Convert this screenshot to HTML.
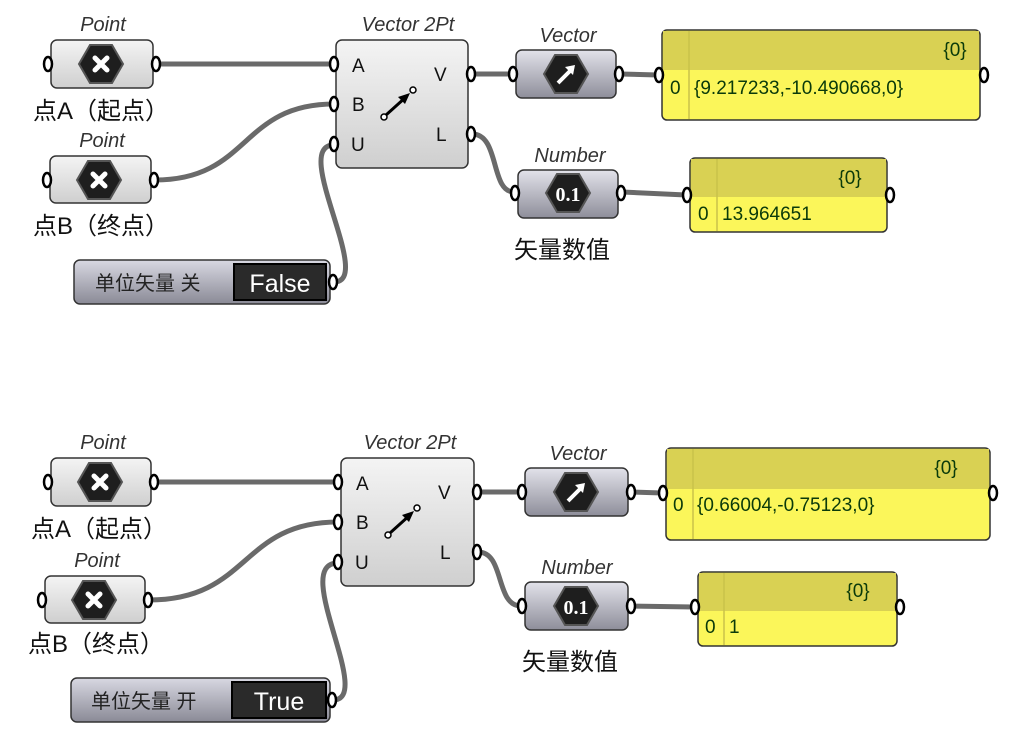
<!DOCTYPE html>
<html><head><meta charset="utf-8"><style>
html,body{margin:0;padding:0;background:#fff;width:1025px;height:735px;overflow:hidden}
svg text{font-family:"Liberation Sans","Noto Sans CJK SC",sans-serif}
.t{font-style:italic;font-size:20px;fill:#333;text-anchor:middle}
.w{stroke:#6a6a6a;stroke-width:5;fill:none}
.p{fill:#fff;stroke:#000;stroke-width:2.5}
.cn{font-size:24px;fill:#111}
.pv{font-size:19px;fill:#0a3a0a}
</style></head><body>
<svg width="1025" height="735" viewBox="0 0 1025 735" xmlns="http://www.w3.org/2000/svg">
<defs>
<linearGradient id="gl" x1="0" y1="0" x2="0" y2="1"><stop offset="0" stop-color="#f4f4f4"/><stop offset="1" stop-color="#cfcfcf"/></linearGradient>
<linearGradient id="gd" x1="0" y1="0" x2="0" y2="1"><stop offset="0" stop-color="#e2e2ea"/><stop offset="1" stop-color="#8e8e9a"/></linearGradient>
<linearGradient id="gt" x1="0" y1="0" x2="0" y2="1"><stop offset="0" stop-color="#d8d8e2"/><stop offset="1" stop-color="#8a8a96"/></linearGradient>
<g id="hexx"><polygon points="-22,0 -11,-19 11,-19 22,0 11,19 -11,19" fill="#1e1e1e" stroke="#555" stroke-width="2"/><path d="M-6,-6 L6,6 M6,-6 L-6,6" stroke="#fff" stroke-width="5" stroke-linecap="round"/></g>
<g id="hexv"><polygon points="-22,0 -11,-19 11,-19 22,0 11,19 -11,19" fill="#1e1e1e" stroke="#555" stroke-width="2"/><path d="M-8,9 L6,-5" stroke="#fff" stroke-width="4"/><polygon points="9,-9 -1,-7 7,1" fill="#fff"/></g>
<g id="hexn"><polygon points="-22,0 -11,-19 11,-19 22,0 11,19 -11,19" fill="#1e1e1e" stroke="#555" stroke-width="2"/><text x="0" y="8" font-size="20" font-weight="bold" fill="#fff" text-anchor="middle" style="font-family:'Liberation Serif',serif">0.1</text></g>
<g id="arr"><circle cx="-16" cy="14" r="3" fill="#fff" stroke="#000" stroke-width="1.5"/><path d="M-14,12 L6,-6" stroke="#000" stroke-width="3"/><polygon points="10,-10 -2,-6 5,1" fill="#000"/><circle cx="13" cy="-13" r="3" fill="#fff" stroke="#000" stroke-width="1.5"/></g>
</defs>

<!-- ===== TOP ===== -->
<path class="w" d="M157,64 L334,64"/>
<path class="w" d="M155,180 C250,180 240,104 334,104"/>
<path class="w" d="M334,282 C375,282 290,145 334,145"/>
<path class="w" d="M472,74 L512,74"/>
<path class="w" d="M472,134 C500,134 490,192 514,192"/>
<path class="w" d="M620,74 L658,75"/>
<path class="w" d="M622,192 L686,195"/>

<text class="t" x="103" y="31">Point</text>
<rect x="51" y="40" width="102" height="48" rx="6" fill="url(#gl)" stroke="#333" stroke-width="1.5"/>
<use href="#hexx" x="101" y="64"/>
<ellipse class="p" cx="48" cy="64" rx="4" ry="7"/><ellipse class="p" cx="156" cy="64" rx="4" ry="7"/>
<text class="cn" x="33" y="119">点A（起点）</text>

<text class="t" x="102" y="147">Point</text>
<rect x="50" y="156" width="101" height="47" rx="6" fill="url(#gl)" stroke="#333" stroke-width="1.5"/>
<use href="#hexx" x="99" y="180"/>
<ellipse class="p" cx="47" cy="180" rx="4" ry="7"/><ellipse class="p" cx="154" cy="180" rx="4" ry="7"/>
<text class="cn" x="33" y="234">点B（终点）</text>

<text class="t" x="408" y="31">Vector 2Pt</text>
<rect x="336" y="40" width="132" height="128" rx="6" fill="url(#gl)" stroke="#333" stroke-width="1.5"/>
<text x="352" y="72" font-size="19" fill="#111">A</text>
<text x="352" y="111" font-size="19" fill="#111">B</text>
<text x="351" y="151" font-size="19" fill="#111">U</text>
<text x="434" y="81" font-size="19" fill="#111">V</text>
<text x="436" y="141" font-size="19" fill="#111">L</text>
<use href="#arr" x="400" y="103"/>
<ellipse class="p" cx="334" cy="64" rx="4" ry="7"/><ellipse class="p" cx="334" cy="104" rx="4" ry="7"/><ellipse class="p" cx="334" cy="144" rx="4" ry="7"/>
<ellipse class="p" cx="471" cy="74" rx="4" ry="7"/><ellipse class="p" cx="471" cy="134" rx="4" ry="7"/>

<rect x="74" y="260" width="256" height="44" rx="6" fill="url(#gt)" stroke="#333" stroke-width="1.5"/>
<text x="95" y="290" font-size="20" fill="#222">单位矢量 关</text>
<rect x="234" y="264" width="92" height="36" fill="#2a2a2a" stroke="#000" stroke-width="2"/>
<text x="280" y="292" font-size="25" fill="#fff" text-anchor="middle">False</text>
<ellipse class="p" cx="333" cy="282" rx="4" ry="7"/>

<text class="t" x="568" y="42">Vector</text>
<rect x="516" y="50" width="100" height="48" rx="6" fill="url(#gd)" stroke="#333" stroke-width="1.5"/>
<use href="#hexv" x="566" y="74"/>
<ellipse class="p" cx="513" cy="74" rx="4" ry="7"/><ellipse class="p" cx="619" cy="74" rx="4" ry="7"/>

<rect x="662" y="30" width="318" height="90" rx="5" fill="#fbf65a" stroke="#333" stroke-width="1.5"/>
<rect x="663" y="31" width="316" height="39" fill="#d9d153"/>
<line x1="689" y1="31" x2="689" y2="119" stroke="#c9c24a" stroke-width="1.5"/>
<text class="pv" x="955" y="56" text-anchor="middle">{0}</text>
<text class="pv" x="670" y="94">0</text>
<text class="pv" x="694" y="94">{9.217233,-10.490668,0}</text>
<ellipse class="p" cx="659" cy="75" rx="4" ry="7"/><ellipse class="p" cx="984" cy="75" rx="4" ry="7"/>

<text class="t" x="570" y="162">Number</text>
<rect x="518" y="170" width="100" height="48" rx="6" fill="url(#gd)" stroke="#333" stroke-width="1.5"/>
<use href="#hexn" x="568" y="193"/>
<ellipse class="p" cx="515" cy="193" rx="4" ry="7"/><ellipse class="p" cx="621" cy="193" rx="4" ry="7"/>
<text class="cn" x="514" y="258">矢量数值</text>

<rect x="690" y="158" width="197" height="74" rx="5" fill="#fbf65a" stroke="#333" stroke-width="1.5"/>
<rect x="691" y="159" width="195" height="38" fill="#d9d153"/>
<line x1="717" y1="159" x2="717" y2="231" stroke="#c9c24a" stroke-width="1.5"/>
<text class="pv" x="850" y="184" text-anchor="middle">{0}</text>
<text class="pv" x="698" y="220">0</text>
<text class="pv" x="722" y="220">13.964651</text>
<ellipse class="p" cx="687" cy="195" rx="4" ry="7"/><ellipse class="p" cx="890" cy="195" rx="4" ry="7"/>

<!-- ===== BOTTOM ===== -->
<path class="w" d="M155,482 L338,482"/>
<path class="w" d="M149,600 C250,600 240,522 338,522"/>
<path class="w" d="M333,700 C375,700 290,563 338,563"/>
<path class="w" d="M478,492 L521,492"/>
<path class="w" d="M478,552 C505,552 495,606 521,606"/>
<path class="w" d="M631,492 L662,493"/>
<path class="w" d="M631,606 L694,607"/>

<text class="t" x="103" y="449">Point</text>
<rect x="51" y="458" width="100" height="48" rx="6" fill="url(#gl)" stroke="#333" stroke-width="1.5"/>
<use href="#hexx" x="100" y="482"/>
<ellipse class="p" cx="48" cy="482" rx="4" ry="7"/><ellipse class="p" cx="154" cy="482" rx="4" ry="7"/>
<text class="cn" x="31" y="537">点A（起点）</text>

<text class="t" x="97" y="567">Point</text>
<rect x="45" y="576" width="100" height="47" rx="6" fill="url(#gl)" stroke="#333" stroke-width="1.5"/>
<use href="#hexx" x="94" y="600"/>
<ellipse class="p" cx="42" cy="600" rx="4" ry="7"/><ellipse class="p" cx="148" cy="600" rx="4" ry="7"/>
<text class="cn" x="28" y="652">点B（终点）</text>

<text class="t" x="410" y="449">Vector 2Pt</text>
<rect x="341" y="458" width="133" height="128" rx="6" fill="url(#gl)" stroke="#333" stroke-width="1.5"/>
<text x="356" y="490" font-size="19" fill="#111">A</text>
<text x="356" y="529" font-size="19" fill="#111">B</text>
<text x="355" y="569" font-size="19" fill="#111">U</text>
<text x="438" y="499" font-size="19" fill="#111">V</text>
<text x="440" y="559" font-size="19" fill="#111">L</text>
<use href="#arr" x="404" y="521"/>
<ellipse class="p" cx="338" cy="482" rx="4" ry="7"/><ellipse class="p" cx="338" cy="522" rx="4" ry="7"/><ellipse class="p" cx="338" cy="562" rx="4" ry="7"/>
<ellipse class="p" cx="477" cy="492" rx="4" ry="7"/><ellipse class="p" cx="477" cy="552" rx="4" ry="7"/>

<rect x="71" y="678" width="259" height="44" rx="6" fill="url(#gt)" stroke="#333" stroke-width="1.5"/>
<text x="91" y="708" font-size="20" fill="#222">单位矢量 开</text>
<rect x="232" y="682" width="94" height="36" fill="#2a2a2a" stroke="#000" stroke-width="2"/>
<text x="279" y="710" font-size="25" fill="#fff" text-anchor="middle">True</text>
<ellipse class="p" cx="332" cy="700" rx="4" ry="7"/>

<text class="t" x="578" y="460">Vector</text>
<rect x="525" y="468" width="103" height="48" rx="6" fill="url(#gd)" stroke="#333" stroke-width="1.5"/>
<use href="#hexv" x="576" y="492"/>
<ellipse class="p" cx="522" cy="492" rx="4" ry="7"/><ellipse class="p" cx="631" cy="492" rx="4" ry="7"/>

<rect x="666" y="448" width="324" height="92" rx="5" fill="#fbf65a" stroke="#333" stroke-width="1.5"/>
<rect x="667" y="449" width="322" height="40" fill="#d9d153"/>
<line x1="693" y1="449" x2="693" y2="539" stroke="#c9c24a" stroke-width="1.5"/>
<text class="pv" x="946" y="474" text-anchor="middle">{0}</text>
<text class="pv" x="673" y="511">0</text>
<text class="pv" x="697" y="511">{0.66004,-0.75123,0}</text>
<ellipse class="p" cx="663" cy="493" rx="4" ry="7"/><ellipse class="p" cx="993" cy="493" rx="4" ry="7"/>

<text class="t" x="577" y="574">Number</text>
<rect x="525" y="582" width="103" height="48" rx="6" fill="url(#gd)" stroke="#333" stroke-width="1.5"/>
<use href="#hexn" x="576" y="606"/>
<ellipse class="p" cx="522" cy="606" rx="4" ry="7"/><ellipse class="p" cx="631" cy="606" rx="4" ry="7"/>
<text class="cn" x="522" y="670">矢量数值</text>

<rect x="698" y="572" width="199" height="74" rx="5" fill="#fbf65a" stroke="#333" stroke-width="1.5"/>
<rect x="699" y="573" width="197" height="38" fill="#d9d153"/>
<line x1="724" y1="573" x2="724" y2="645" stroke="#c9c24a" stroke-width="1.5"/>
<text class="pv" x="858" y="597" text-anchor="middle">{0}</text>
<text class="pv" x="705" y="633">0</text>
<text class="pv" x="729" y="633">1</text>
<ellipse class="p" cx="695" cy="607" rx="4" ry="7"/><ellipse class="p" cx="900" cy="607" rx="4" ry="7"/>
</svg>
</body></html>
